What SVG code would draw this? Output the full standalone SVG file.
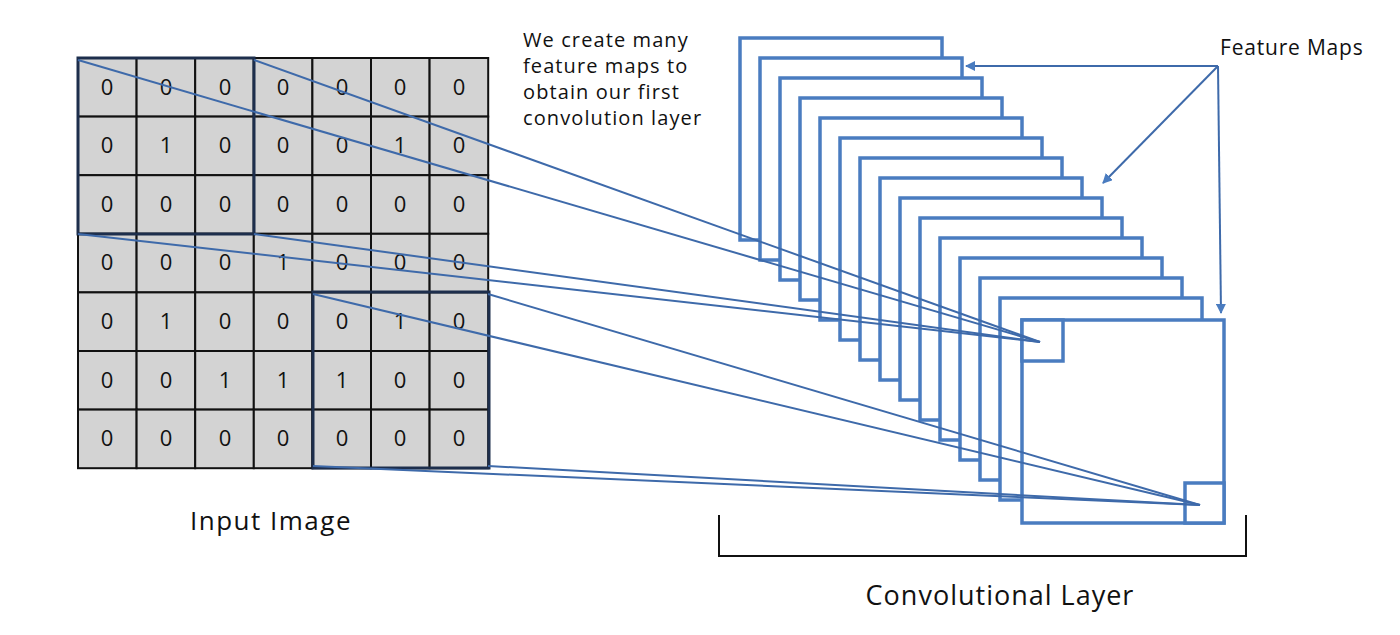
<svg xmlns="http://www.w3.org/2000/svg" width="1400" height="635" viewBox="0 0 1400 635">
<defs>
<style>
.cell{fill:#d3d3d3;stroke:#111;stroke-width:2}
.d{font-family:"Open Sans",sans-serif;font-size:22px;fill:#111;text-anchor:middle}
.fm{fill:#fff;stroke:#4a7cc0;stroke-width:3.5}
.ln{stroke:#3e6aaa;stroke-width:2;fill:none}
.t{font-family:"Open Sans",sans-serif;fill:#111}
.flt{fill:none;stroke:#1d2e4c;stroke-width:3}
</style>
<marker id="ah" viewBox="0 0 10 10" refX="9" refY="5" markerWidth="5" markerHeight="5" orient="auto"><path d="M0,0L10,5L0,10z" fill="#4a7cc0"/></marker>
</defs>
<rect width="1400" height="635" fill="#fff"/>
<g id="grid">
<rect class="cell" x="78" y="58" width="58.6" height="58.6"/><rect class="cell" x="136.6" y="58" width="58.6" height="58.6"/><rect class="cell" x="195.2" y="58" width="58.6" height="58.6"/><rect class="cell" x="253.8" y="58" width="58.6" height="58.6"/><rect class="cell" x="312.4" y="58" width="58.6" height="58.6"/><rect class="cell" x="371" y="58" width="58.6" height="58.6"/><rect class="cell" x="429.6" y="58" width="58.6" height="58.6"/>
<rect class="cell" x="78" y="116.6" width="58.6" height="58.6"/><rect class="cell" x="136.6" y="116.6" width="58.6" height="58.6"/><rect class="cell" x="195.2" y="116.6" width="58.6" height="58.6"/><rect class="cell" x="253.8" y="116.6" width="58.6" height="58.6"/><rect class="cell" x="312.4" y="116.6" width="58.6" height="58.6"/><rect class="cell" x="371" y="116.6" width="58.6" height="58.6"/><rect class="cell" x="429.6" y="116.6" width="58.6" height="58.6"/>
<rect class="cell" x="78" y="175.2" width="58.6" height="58.6"/><rect class="cell" x="136.6" y="175.2" width="58.6" height="58.6"/><rect class="cell" x="195.2" y="175.2" width="58.6" height="58.6"/><rect class="cell" x="253.8" y="175.2" width="58.6" height="58.6"/><rect class="cell" x="312.4" y="175.2" width="58.6" height="58.6"/><rect class="cell" x="371" y="175.2" width="58.6" height="58.6"/><rect class="cell" x="429.6" y="175.2" width="58.6" height="58.6"/>
<rect class="cell" x="78" y="233.8" width="58.6" height="58.6"/><rect class="cell" x="136.6" y="233.8" width="58.6" height="58.6"/><rect class="cell" x="195.2" y="233.8" width="58.6" height="58.6"/><rect class="cell" x="253.8" y="233.8" width="58.6" height="58.6"/><rect class="cell" x="312.4" y="233.8" width="58.6" height="58.6"/><rect class="cell" x="371" y="233.8" width="58.6" height="58.6"/><rect class="cell" x="429.6" y="233.8" width="58.6" height="58.6"/>
<rect class="cell" x="78" y="292.4" width="58.6" height="58.6"/><rect class="cell" x="136.6" y="292.4" width="58.6" height="58.6"/><rect class="cell" x="195.2" y="292.4" width="58.6" height="58.6"/><rect class="cell" x="253.8" y="292.4" width="58.6" height="58.6"/><rect class="cell" x="312.4" y="292.4" width="58.6" height="58.6"/><rect class="cell" x="371" y="292.4" width="58.6" height="58.6"/><rect class="cell" x="429.6" y="292.4" width="58.6" height="58.6"/>
<rect class="cell" x="78" y="351" width="58.6" height="58.6"/><rect class="cell" x="136.6" y="351" width="58.6" height="58.6"/><rect class="cell" x="195.2" y="351" width="58.6" height="58.6"/><rect class="cell" x="253.8" y="351" width="58.6" height="58.6"/><rect class="cell" x="312.4" y="351" width="58.6" height="58.6"/><rect class="cell" x="371" y="351" width="58.6" height="58.6"/><rect class="cell" x="429.6" y="351" width="58.6" height="58.6"/>
<rect class="cell" x="78" y="409.6" width="58.6" height="58.6"/><rect class="cell" x="136.6" y="409.6" width="58.6" height="58.6"/><rect class="cell" x="195.2" y="409.6" width="58.6" height="58.6"/><rect class="cell" x="253.8" y="409.6" width="58.6" height="58.6"/><rect class="cell" x="312.4" y="409.6" width="58.6" height="58.6"/><rect class="cell" x="371" y="409.6" width="58.6" height="58.6"/><rect class="cell" x="429.6" y="409.6" width="58.6" height="58.6"/>
</g>
<g id="digits" class="d">
<text x="107" y="95">0</text><text x="166" y="95">0</text><text x="225" y="95">0</text><text x="283" y="95">0</text><text x="342" y="95">0</text><text x="400" y="95">0</text><text x="459" y="95">0</text>
<text x="107" y="153">0</text><text x="166" y="153">1</text><text x="225" y="153">0</text><text x="283" y="153">0</text><text x="342" y="153">0</text><text x="400" y="153">1</text><text x="459" y="153">0</text>
<text x="107" y="212">0</text><text x="166" y="212">0</text><text x="225" y="212">0</text><text x="283" y="212">0</text><text x="342" y="212">0</text><text x="400" y="212">0</text><text x="459" y="212">0</text>
<text x="107" y="270">0</text><text x="166" y="270">0</text><text x="225" y="270">0</text><text x="283" y="270">1</text><text x="342" y="270">0</text><text x="400" y="270">0</text><text x="459" y="270">0</text>
<text x="107" y="329">0</text><text x="166" y="329">1</text><text x="225" y="329">0</text><text x="283" y="329">0</text><text x="342" y="329">0</text><text x="400" y="329">1</text><text x="459" y="329">0</text>
<text x="107" y="388">0</text><text x="166" y="388">0</text><text x="225" y="388">1</text><text x="283" y="388">1</text><text x="342" y="388">1</text><text x="400" y="388">0</text><text x="459" y="388">0</text>
<text x="107" y="446">0</text><text x="166" y="446">0</text><text x="225" y="446">0</text><text x="283" y="446">0</text><text x="342" y="446">0</text><text x="400" y="446">0</text><text x="459" y="446">0</text>
</g>
<g id="filters">
<rect class="flt" x="78" y="58" width="176" height="176"/>
<rect class="flt" x="313" y="292" width="176" height="176"/>
</g>
<g id="feature-maps">
<rect class="fm" x="740" y="38" width="202" height="202"/>
<rect class="fm" x="760" y="58" width="202" height="202"/>
<rect class="fm" x="780" y="78" width="202" height="202"/>
<rect class="fm" x="800" y="98" width="202" height="202"/>
<rect class="fm" x="820" y="118" width="202" height="202"/>
<rect class="fm" x="840" y="138" width="202" height="202"/>
<rect class="fm" x="860" y="158" width="202" height="202"/>
<rect class="fm" x="880" y="178" width="202" height="202"/>
<rect class="fm" x="900" y="198" width="202" height="202"/>
<rect class="fm" x="920" y="218" width="202" height="202"/>
<rect class="fm" x="940" y="238" width="202" height="202"/>
<rect class="fm" x="960" y="258" width="202" height="202"/>
<rect class="fm" x="980" y="278" width="202" height="202"/>
<rect class="fm" x="1000" y="298" width="202" height="202"/>
<rect class="fm" x="1022" y="320" width="202" height="203"/>
<rect class="fm" x="1022" y="320" width="41" height="41"/>
<rect class="fm" x="1185" y="483" width="39" height="40"/>
</g>
<g id="connectors">
<line class="ln" x1="78" y1="60" x2="1040" y2="342"/>
<line class="ln" x1="254" y1="60" x2="1040" y2="342"/>
<line class="ln" x1="78" y1="234" x2="1040" y2="342"/>
<line class="ln" x1="254" y1="234" x2="1040" y2="342"/>
<line class="ln" x1="313" y1="294" x2="1200" y2="505"/>
<line class="ln" x1="488" y1="294" x2="1200" y2="505"/>
<line class="ln" x1="313" y1="466" x2="1200" y2="505"/>
<line class="ln" x1="488" y1="466" x2="1200" y2="505"/>
<line class="ln" x1="1218" y1="66" x2="966" y2="66" stroke="#4a7cc0" marker-end="url(#ah)"/>
<line class="ln" x1="1218" y1="66" x2="1103" y2="183" stroke="#4a7cc0" marker-end="url(#ah)"/>
<line class="ln" x1="1218" y1="66" x2="1221" y2="313" stroke="#4a7cc0" marker-end="url(#ah)"/>
</g>
<path id="bracket" d="M719,515V556H1246V515" fill="none" stroke="#111" stroke-width="2"/>
<g id="labels" class="t">
<text x="523" y="47" font-size="20" letter-spacing="1.1">We create many</text>
<text x="523" y="73" font-size="20" letter-spacing="1.1">feature maps to</text>
<text x="523" y="99" font-size="20" letter-spacing="1.1">obtain our first</text>
<text x="523" y="125" font-size="20" letter-spacing="1.1">convolution layer</text>
<text x="1220" y="55" font-size="21" letter-spacing="0.8">Feature Maps</text>
<text x="271" y="530" font-size="26" letter-spacing="1.5" text-anchor="middle">Input Image</text>
<text x="1000" y="605" font-size="27" letter-spacing="1" text-anchor="middle">Convolutional Layer</text>
</g>
</svg>
